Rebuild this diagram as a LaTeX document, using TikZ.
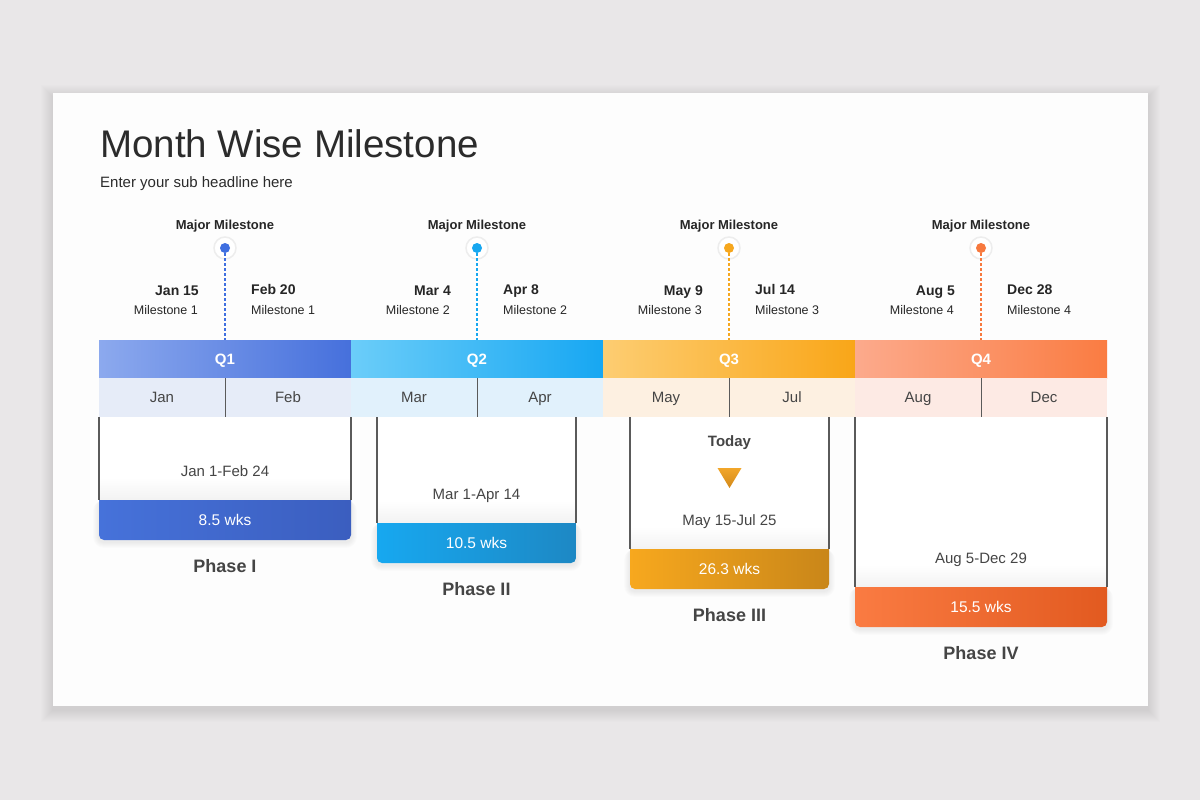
\documentclass[tikz,border=0pt]{standalone}
\usepackage{fontspec}
\setmainfont{Liberation Sans}
\definecolor{bgc}{HTML}{E9E7E8}
\definecolor{cardc}{HTML}{FDFDFD}
\definecolor{titlec}{HTML}{2B2B2B}
\definecolor{darkt}{HTML}{262626}
\definecolor{midt}{HTML}{454545}
\definecolor{linec}{HTML}{5A5A5A}
% quarter headers
\definecolor{qa1}{HTML}{8CA9EE}\definecolor{qb1}{HTML}{4670DC}
\definecolor{qa2}{HTML}{6BCDF9}\definecolor{qb2}{HTML}{17A7F2}
\definecolor{qa3}{HTML}{FDCD72}\definecolor{qb3}{HTML}{F9A618}
\definecolor{qa4}{HTML}{FCAA8C}\definecolor{qb4}{HTML}{FA7C42}
% bars
\definecolor{ba1}{HTML}{4672DA}\definecolor{bb1}{HTML}{3B5EBF}
\definecolor{ba2}{HTML}{17A8F0}\definecolor{bb2}{HTML}{1D88C4}
\definecolor{ba3}{HTML}{F7A81E}\definecolor{bb3}{HTML}{C98619}
\definecolor{ba4}{HTML}{FA7B42}\definecolor{bb4}{HTML}{E25A20}
% month rows
\definecolor{mc1}{HTML}{E6ECF8}\definecolor{mc2}{HTML}{E1F1FC}
\definecolor{mc3}{HTML}{FDF0E1}\definecolor{mc4}{HTML}{FDEAE4}
% dots
\definecolor{dc1}{HTML}{3F6FE0}\definecolor{dc2}{HTML}{17A7F0}
\definecolor{dc3}{HTML}{F6A71E}\definecolor{dc4}{HTML}{F7793E}
\definecolor{tria}{HTML}{F2A62A}\definecolor{trib}{HTML}{D2891A}
\begin{document}
\begin{tikzpicture}[x=1pt,y=-1pt,
  txt/.style={inner sep=0pt, anchor=base},
  majorlbl/.style={txt, font=\bfseries\fontsize{13}{15}\selectfont, text=darkt},
  datelbl/.style={inner sep=0pt, font=\bfseries\fontsize{14}{16}\selectfont, text=darkt},
  mslbl/.style={inner sep=0pt, font=\fontsize{12.5}{15}\selectfont, text=darkt},
  qlbl/.style={txt, font=\bfseries\fontsize{15}{18}\selectfont, text=white},
  monthlbl/.style={txt, font=\fontsize{15}{18}\selectfont, text=midt},
  rangelbl/.style={txt, font=\fontsize{15}{18}\selectfont, text=midt},
  wklbl/.style={txt, font=\fontsize{15.5}{18}\selectfont, text=white},
  phaselbl/.style={txt, font=\bfseries\fontsize{18}{21}\selectfont, text=midt},
  boxline/.style={draw=linec, line width=1.2pt},
  msline/.style={dash pattern=on 3pt off 2pt, line width=1.2pt}
]
\useasboundingbox (0,0) rectangle (1200,800);
\fill[bgc] (0,0) rectangle (1200,800);
% soft card shadow
\foreach \k in {1,...,12}{
  \fill[black, opacity=0.009] (53-\k,93-\k+4) rectangle (1148+\k,706+\k+4);
}
\fill[cardc] (53,93) rectangle (1148,706);

\node[inner sep=0pt, anchor=base west, font=\fontsize{38.5}{46}\selectfont, text=titlec] (title) at (100,157) {Month Wise Milestone};
\node[inner sep=0pt, anchor=base west, font=\fontsize{15}{18}\selectfont, text=titlec] (sub) at (100,187) {Enter your sub headline here};

% phase boxes
\foreach \j/\xa/\xb/\yb/\rng/\wk/\ph in {1/99/351/500/Jan 1-Feb 24/8.5 wks/Phase I, 2/377/576/523/Mar 1-Apr 14/10.5 wks/Phase II, 3/630/829/549/May 15-Jul 25/26.3 wks/Phase III, 4/855/1107/587/Aug 5-Dec 29/15.5 wks/Phase IV}{
  \pgfmathsetmacro\pc{(\xa+\xb)/2}
  \foreach \k in {1,...,6}{
    \fill[black, opacity=0.012, rounded corners=5pt+\k pt] (\xa-\k,\yb) rectangle (\xb+\k,\yb+40+\k+2);
  }
  \fill[white] (\xa,417) rectangle (\xb,\yb);
  \shade[top color=white, bottom color=black!5] (\xa,\yb-22) rectangle (\xb,\yb);
  \begin{scope}
    \clip (\xa,\yb) rectangle (\xb,\yb+45);
    \shade[left color=ba\j, right color=bb\j, rounded corners=5pt] (\xa,\yb-10) rectangle (\xb,\yb+40);
  \end{scope}
  \draw[boxline] (\xa,417) -- (\xa,\yb);
  \draw[boxline] (\xb,417) -- (\xb,\yb);
  \node[rangelbl] (range\j) at (\pc,\yb-23.5) {\rng};
  \node[wklbl] (wk\j) at (\pc,\yb+25.5) {\wk};
  \node[phaselbl] (phase\j) at (\pc,\yb+72.5) {\ph};
}

% today marker
\node[txt, font=\bfseries\fontsize{15}{18}\selectfont, text=midt] (today) at (729.5,446.5) {Today};
\shade[top color=tria, bottom color=trib] (717.5,468) -- (741.5,468) -- (729.5,488) -- cycle;

% quarters
\foreach \i/\mA/\mB/\dA/\dB in {1/Jan/Feb/Jan 15/Feb 20, 2/Mar/Apr/Mar 4/Apr 8, 3/May/Jul/May 9/Jul 14, 4/Aug/Dec/Aug 5/Dec 28}{
  \pgfmathsetmacro\xo{99+252*(\i-1)}
  \pgfmathsetmacro\cx{\xo+126}
  \node[inner sep=0pt, minimum width=252pt, minimum height=38pt, left color=qa\i, right color=qb\i] (q\i) at (\cx,359) {};
  \node[qlbl] (qt\i) at (\cx,364.5) {Q\i};
  \fill[mc\i] (\xo,378) rectangle (\xo+252,417);
  \draw[linec, line width=1pt] (\cx,378) -- (\cx,417);
  \node[monthlbl] (ma\i) at (\xo+63,402.5) {\mA};
  \node[monthlbl] (mb\i) at (\xo+189,402.5) {\mB};
  \node[majorlbl] (maj\i) at (\cx,229.7) {Major Milestone};
  \node[circle, fill=white, draw=black!7, line width=1.5pt, minimum size=22pt, inner sep=0pt] (halo\i) at (\cx,248) {};
  \node[circle, fill=dc\i, minimum size=10pt, inner sep=0pt] (dot\i) at (\cx,248) {};
  \draw[msline, dc\i] (dot\i.south) -- (q\i.north);
  \node[datelbl, anchor=base east] (da\i) at (\cx-26,295) {\dA};
  \node[mslbl, anchor=base east] (msa\i) at (\cx-27,314.5) {Milestone \i};
  \node[datelbl, anchor=base west] (db\i) at (\cx+26,294) {\dB};
  \node[mslbl, anchor=base west] (msb\i) at (\cx+26,314.5) {Milestone \i};
}
\end{tikzpicture}
\end{document}
